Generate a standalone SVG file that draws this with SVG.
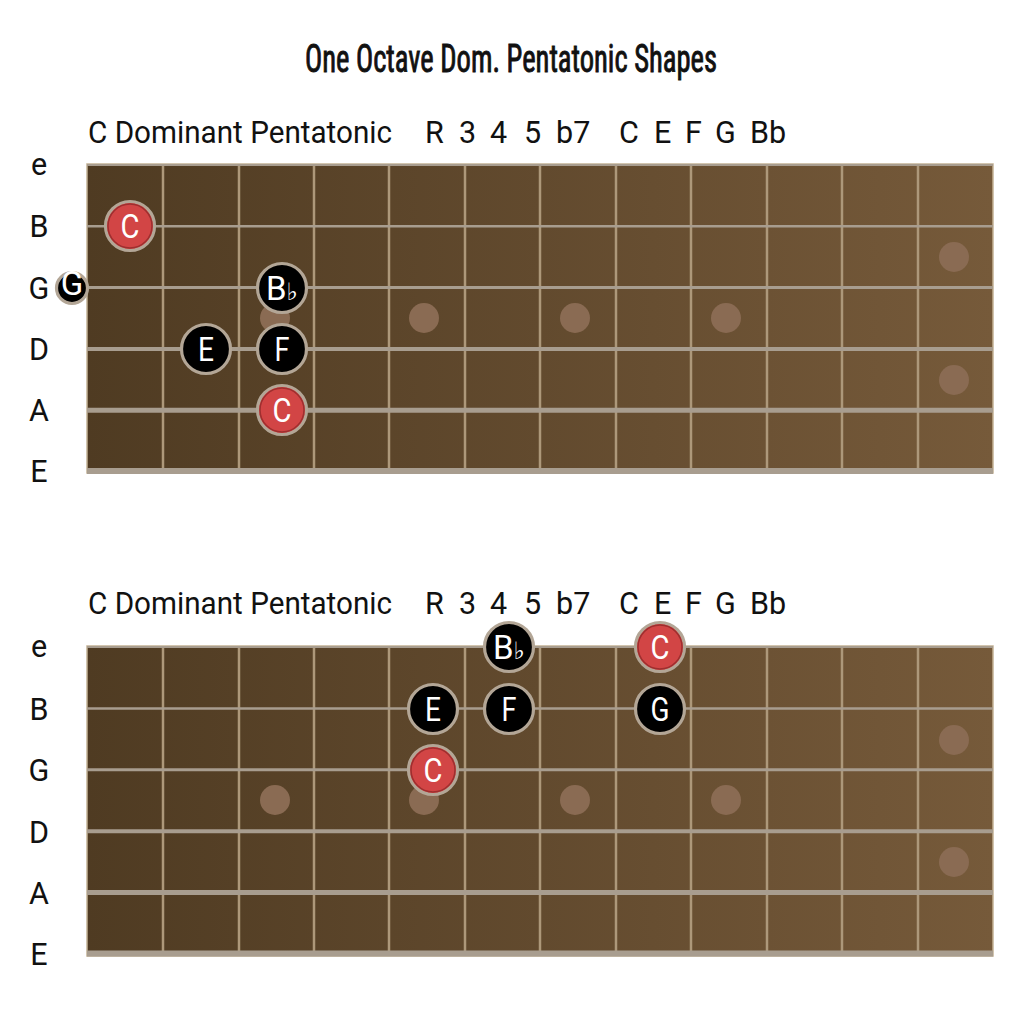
<svg xmlns="http://www.w3.org/2000/svg" width="1019" height="1024" viewBox="0 0 1019 1024">
<defs>
<linearGradient id="wood" x1="0" y1="0" x2="1" y2="0">
<stop offset="0" stop-color="#4f3b22"/>
<stop offset="0.5" stop-color="#624a2e"/>
<stop offset="1" stop-color="#765a3a"/>
</linearGradient>
<style>
.lbl{font-family:Roboto,"Liberation Sans",sans-serif;font-size:30.5px;fill:#111}
.str{font-family:Roboto,"Liberation Sans",sans-serif;font-size:30.5px;fill:#111;text-anchor:middle}
.fret{stroke:#ad987a;stroke-width:2.5}
.s{stroke:#a89d8f}
.inlay{fill:#8a6b53}
.blk{fill:#000;stroke:#b3a696;stroke-width:3.2}
.red{fill:#d24545;stroke:#b3a696;stroke-width:3.2}
.redring{fill:none;stroke:#9e2f2f;stroke-width:1.5}
.nt{font-family:Roboto,"Liberation Sans",sans-serif;font-size:33px;fill:#fff;text-anchor:middle}
</style>
</defs>
<rect width="1019" height="1024" fill="#fff"/>
<text x="511" y="72" text-anchor="middle" font-family="'Liberation Sans Narrow','Roboto Condensed','DejaVu Sans Condensed',sans-serif" font-size="38" fill="#111" stroke="#111" stroke-width="0.9" textLength="412" lengthAdjust="spacingAndGlyphs">One Octave Dom. Pentatonic Shapes</text>

<g id="board-top">
<rect x="87" y="164" width="906" height="309" fill="url(#wood)" stroke="#c4b295" stroke-width="1.5"/>
<g class="fret">
<line x1="163" y1="164" x2="163" y2="472"/><line x1="239" y1="164" x2="239" y2="472"/><line x1="314" y1="164" x2="314" y2="472"/><line x1="389" y1="164" x2="389" y2="472"/><line x1="465" y1="164" x2="465" y2="472"/><line x1="540" y1="164" x2="540" y2="472"/><line x1="616" y1="164" x2="616" y2="472"/><line x1="691" y1="164" x2="691" y2="472"/><line x1="767" y1="164" x2="767" y2="472"/><line x1="842" y1="164" x2="842" y2="472"/><line x1="918" y1="164" x2="918" y2="472"/>
</g>
<line class="s" x1="87" y1="165" x2="993" y2="165" stroke-width="2"/>
<line class="s" x1="87" y1="226.3" x2="993" y2="226.3" stroke-width="2.5"/>
<line class="s" x1="87" y1="287.6" x2="993" y2="287.6" stroke-width="3"/>
<line class="s" x1="87" y1="348.9" x2="993" y2="348.9" stroke-width="4"/>
<line class="s" x1="87" y1="410.2" x2="993" y2="410.2" stroke-width="5"/>
<line class="s" x1="87" y1="471" x2="993" y2="471" stroke-width="6"/>
<circle class="inlay" cx="275" cy="318" r="15"/>
<circle class="inlay" cx="424" cy="318" r="15"/>
<circle class="inlay" cx="575" cy="318" r="15"/>
<circle class="inlay" cx="726" cy="318" r="15"/>
<circle class="inlay" cx="954" cy="257" r="15"/>
<circle class="inlay" cx="954" cy="380" r="15"/>
</g>

<g id="labels-top">
<text class="lbl" x="88" y="143" textLength="304" lengthAdjust="spacingAndGlyphs">C Dominant Pentatonic</text>
<text class="lbl" x="425" y="143">R</text><text class="lbl" x="459" y="143">3</text><text class="lbl" x="490" y="143">4</text><text class="lbl" x="524" y="143">5</text><text class="lbl" x="556" y="143">b7</text>
<text class="lbl" x="619" y="143">C</text><text class="lbl" x="654" y="143">E</text><text class="lbl" x="685" y="143">F</text><text class="lbl" x="715" y="143">G</text><text class="lbl" x="750" y="143">Bb</text>
<text class="str" x="39" y="175">e</text>
<text class="str" x="39" y="237">B</text>
<text class="str" x="39" y="299">G</text>
<text class="str" x="39" y="360">D</text>
<text class="str" x="39" y="421">A</text>
<text class="str" x="39" y="482">E</text>
</g>

<g id="notes-top">
<g id="t-c1"><circle class="red" cx="130" cy="226" r="24.5"/><circle class="redring" cx="130" cy="226" r="22"/><text class="nt" x="130" y="238" textLength="19" lengthAdjust="spacingAndGlyphs">C</text></g>
<g id="t-g"><circle class="blk" cx="72" cy="288" r="15.5"/><text class="nt" x="72" y="294.5" font-size="17">G</text></g>
<g id="t-bb"><circle class="blk" cx="282" cy="288" r="24.5"/><text class="nt" x="282" y="300">B<tspan font-family="'DejaVu Sans',sans-serif" font-size="24">♭</tspan></text></g>
<g id="t-e"><circle class="blk" cx="206" cy="349" r="24.5"/><text class="nt" x="206" y="361" textLength="16" lengthAdjust="spacingAndGlyphs">E</text></g>
<g id="t-f"><circle class="blk" cx="282" cy="349" r="24.5"/><text class="nt" x="282" y="361" textLength="15" lengthAdjust="spacingAndGlyphs">F</text></g>
<g id="t-c2"><circle class="red" cx="282" cy="410" r="24.5"/><circle class="redring" cx="282" cy="410" r="22"/><text class="nt" x="282" y="422" textLength="19" lengthAdjust="spacingAndGlyphs">C</text></g>
</g>

<g id="board-bottom">
<rect x="87" y="646" width="906" height="310" fill="url(#wood)" stroke="#c4b295" stroke-width="1.5"/>
<g class="fret">
<line x1="163" y1="646" x2="163" y2="954"/><line x1="239" y1="646" x2="239" y2="954"/><line x1="314" y1="646" x2="314" y2="954"/><line x1="389" y1="646" x2="389" y2="954"/><line x1="465" y1="646" x2="465" y2="954"/><line x1="540" y1="646" x2="540" y2="954"/><line x1="616" y1="646" x2="616" y2="954"/><line x1="691" y1="646" x2="691" y2="954"/><line x1="767" y1="646" x2="767" y2="954"/><line x1="842" y1="646" x2="842" y2="954"/><line x1="918" y1="646" x2="918" y2="954"/>
</g>
<line class="s" x1="87" y1="647" x2="993" y2="647" stroke-width="2"/>
<line class="s" x1="87" y1="708.4" x2="993" y2="708.4" stroke-width="2.5"/>
<line class="s" x1="87" y1="769.8" x2="993" y2="769.8" stroke-width="3"/>
<line class="s" x1="87" y1="831.2" x2="993" y2="831.2" stroke-width="4"/>
<line class="s" x1="87" y1="892.6" x2="993" y2="892.6" stroke-width="5"/>
<line class="s" x1="87" y1="953.5" x2="993" y2="953.5" stroke-width="6"/>
<circle class="inlay" cx="275" cy="800" r="15"/>
<circle class="inlay" cx="424" cy="800" r="15"/>
<circle class="inlay" cx="575" cy="800" r="15"/>
<circle class="inlay" cx="726" cy="800" r="15"/>
<circle class="inlay" cx="954" cy="740" r="15"/>
<circle class="inlay" cx="954" cy="862" r="15"/>
</g>

<g id="labels-bottom">
<text class="lbl" x="88" y="614" textLength="304" lengthAdjust="spacingAndGlyphs">C Dominant Pentatonic</text>
<text class="lbl" x="425" y="614">R</text><text class="lbl" x="459" y="614">3</text><text class="lbl" x="490" y="614">4</text><text class="lbl" x="524" y="614">5</text><text class="lbl" x="556" y="614">b7</text>
<text class="lbl" x="619" y="614">C</text><text class="lbl" x="654" y="614">E</text><text class="lbl" x="685" y="614">F</text><text class="lbl" x="715" y="614">G</text><text class="lbl" x="750" y="614">Bb</text>
<text class="str" x="39" y="657">e</text>
<text class="str" x="39" y="720">B</text>
<text class="str" x="39" y="781">G</text>
<text class="str" x="39" y="843">D</text>
<text class="str" x="39" y="904">A</text>
<text class="str" x="39" y="965">E</text>
</g>

<g id="notes-bottom">
<g id="b-bb"><circle class="blk" cx="509" cy="647" r="24.5"/><text class="nt" x="509" y="659">B<tspan font-family="'DejaVu Sans',sans-serif" font-size="24">♭</tspan></text></g>
<g id="b-c1"><circle class="red" cx="660" cy="647" r="24.5"/><circle class="redring" cx="660" cy="647" r="22"/><text class="nt" x="660" y="659" textLength="19" lengthAdjust="spacingAndGlyphs">C</text></g>
<g id="b-e"><circle class="blk" cx="433" cy="709" r="24.5"/><text class="nt" x="433" y="721" textLength="16" lengthAdjust="spacingAndGlyphs">E</text></g>
<g id="b-f"><circle class="blk" cx="509" cy="709" r="24.5"/><text class="nt" x="509" y="721" textLength="15" lengthAdjust="spacingAndGlyphs">F</text></g>
<g id="b-g"><circle class="blk" cx="660" cy="709" r="24.5"/><text class="nt" x="660" y="721" textLength="19" lengthAdjust="spacingAndGlyphs">G</text></g>
<g id="b-c2"><circle class="red" cx="433" cy="770" r="24.5"/><circle class="redring" cx="433" cy="770" r="22"/><text class="nt" x="433" y="782" textLength="19" lengthAdjust="spacingAndGlyphs">C</text></g>
</g>
</svg>
